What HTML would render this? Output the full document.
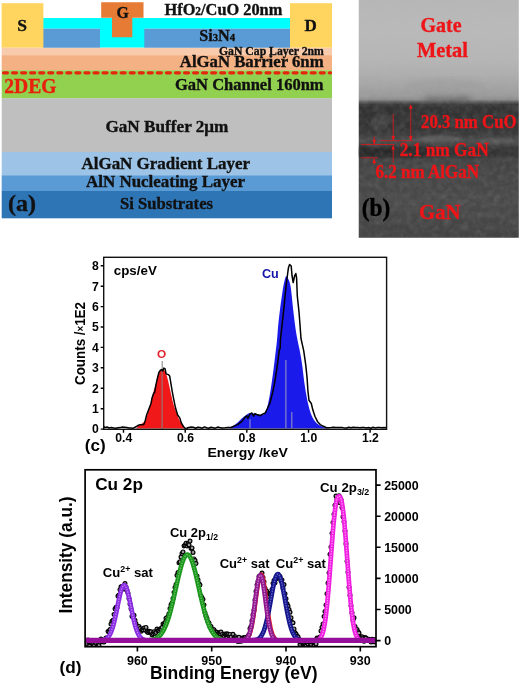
<!DOCTYPE html>
<html><head><meta charset="utf-8"><title>Figure</title>
<style>
html,body{margin:0;padding:0;background:#fff;}
body{width:520px;height:685px;overflow:hidden;}
svg{display:block;filter:blur(0.45px);}
.se{font-family:"Liberation Serif",serif;font-weight:bold;}
.sa{font-family:"Liberation Sans",sans-serif;font-weight:bold;}
</style></head><body>
<svg width="520" height="685" viewBox="0 0 520 685">
<defs>
<linearGradient id="tem" x1="0" y1="0" x2="0" y2="1" gradientUnits="objectBoundingBox">

<stop offset="0.0000" stop-color="#b7b7b7"/>
<stop offset="0.1261" stop-color="#bababa"/>
<stop offset="0.2521" stop-color="#b6b6b6"/>
<stop offset="0.3151" stop-color="#aeaeae"/>
<stop offset="0.3697" stop-color="#a3a3a3"/>
<stop offset="0.4034" stop-color="#9a9a9a"/>
<stop offset="0.4181" stop-color="#8c8c8c"/>
<stop offset="0.4286" stop-color="#5c5c5c"/>
<stop offset="0.4391" stop-color="#3a3a3a"/>
<stop offset="0.4538" stop-color="#323232"/>
<stop offset="0.5378" stop-color="#343434"/>
<stop offset="0.5672" stop-color="#3c3c3c"/>
<stop offset="0.5882" stop-color="#4a4a4a"/>
<stop offset="0.6050" stop-color="#444444"/>
<stop offset="0.6218" stop-color="#3a3a3a"/>
<stop offset="0.6555" stop-color="#3a3a3a"/>
<stop offset="0.6723" stop-color="#424242"/>
<stop offset="0.7353" stop-color="#464646"/>
<stop offset="0.8613" stop-color="#4a4a4a"/>
<stop offset="1.0000" stop-color="#424242"/>
</linearGradient>
<linearGradient id="dl" x1="0" y1="0" x2="1" y2="0"><stop offset="0" stop-color="#1c1c1c" stop-opacity="1"/><stop offset="0.38" stop-color="#1c1c1c" stop-opacity="0.9"/><stop offset="0.6" stop-color="#222" stop-opacity="0.35"/><stop offset="1" stop-color="#222" stop-opacity="0.25"/></linearGradient>
<filter id="noise" x="0" y="0" width="100%" height="100%">
<feTurbulence type="fractalNoise" baseFrequency="0.16" numOctaves="3" seed="4" result="n"/>
<feColorMatrix in="n" type="matrix" values="0 0 0 0 0.5  0 0 0 0 0.5  0 0 0 0 0.5  0.9 0.9 0.9 0 -1.05"/>
</filter>
<filter id="b1"><feGaussianBlur stdDeviation="1.2"/></filter>
<filter id="b2"><feGaussianBlur stdDeviation="3"/></filter>
<clipPath id="cb"><rect x="358.5" y="0" width="160.3" height="237.8"/></clipPath>
<clipPath id="cc"><rect x="103.7" y="257.3" width="282.9" height="172"/></clipPath>
<clipPath id="cd"><rect x="85" y="470" width="291" height="176.7"/></clipPath>
</defs>
<rect width="520" height="685" fill="#fff"/>

<g id="pa">
<rect x="1.7" y="47.5" width="330.3" height="8" fill="#F8CBAD"/>
<rect x="1.7" y="55.2" width="330.3" height="15.3" fill="#F4B183"/>
<rect x="1.7" y="70.3" width="330.3" height="28.2" fill="#92D050"/>
<rect x="1.7" y="98.3" width="330.3" height="53.9" fill="#BFBFBF"/>
<rect x="1.7" y="152" width="330.3" height="23.5" fill="#9DC3E6"/>
<rect x="1.7" y="175.3" width="330.3" height="15.9" fill="#5B9BD5"/>
<rect x="1.7" y="191" width="330.3" height="27.3" fill="#2E75B6"/>
<rect x="43" y="28.4" width="57.2" height="19.3" fill="#5B9BD5"/>
<rect x="144" y="28.4" width="146.2" height="19.3" fill="#5B9BD5"/>
<path d="M43 18 H290.2 V28.5 H144.3 V47.5 H100 V28.5 H43 Z" fill="#00FFFF"/>
<rect x="1.6" y="3.2" width="41.8" height="44.4" fill="#FFD45F"/>
<rect x="290" y="3.2" width="42" height="44.4" fill="#FFD45F"/>
<path d="M101.2 2.3 H143.5 V17.8 H132.3 V37.2 H112 V17.8 H101.2 Z" fill="#E57B35"/>
<path d="M3.6 72.8 H330.4" stroke="#E6250F" stroke-width="3.3" stroke-dasharray="3.8 5.25" stroke-linecap="round" fill="none"/>
<text class="se" x="17.2" y="30.8" font-size="17.5" fill="#111" stroke="#111" stroke-width="0.35">S</text>
<text class="se" x="304.6" y="31" font-size="17" fill="#111" stroke="#111" stroke-width="0.35">D</text>
<text class="se" x="116.4" y="17.8" font-size="15.8" fill="#111" stroke="#111" stroke-width="0.35">G</text>
<text class="se" x="164.5" y="14.8" font-size="16.5" fill="#111" textLength="117.8" lengthAdjust="spacingAndGlyphs" stroke="#111" stroke-width="0.35">HfO<tspan font-size="11.5">2</tspan>/CuO 20nm</text>
<text class="se" x="199.2" y="41.2" font-size="16.5" fill="#111" textLength="36" lengthAdjust="spacingAndGlyphs" stroke="#111" stroke-width="0.35">Si<tspan font-size="11">3</tspan>N<tspan font-size="11">4</tspan></text>
<text class="se" x="219" y="54.6" font-size="12" fill="#111" textLength="104.8" lengthAdjust="spacingAndGlyphs" stroke="#111" stroke-width="0.35">GaN Cap Layer 2nm</text>
<text class="se" x="179.8" y="66.8" font-size="16.5" fill="#111" textLength="143.8" lengthAdjust="spacingAndGlyphs" stroke="#111" stroke-width="0.35">AlGaN Barrier 6nm</text>
<text class="se" x="175" y="89.9" font-size="16.5" fill="#111" textLength="148.6" lengthAdjust="spacingAndGlyphs" stroke="#111" stroke-width="0.35">GaN Channel 160nm</text>
<text class="se" x="4.2" y="93.2" font-size="20" fill="#E8200C" textLength="52.3" lengthAdjust="spacingAndGlyphs" stroke="#E8200C" stroke-width="0.35">2DEG</text>
<text class="se" x="105.4" y="131.5" font-size="17" fill="#111" textLength="123" lengthAdjust="spacingAndGlyphs" stroke="#111" stroke-width="0.35">GaN Buffer 2μm</text>
<text class="se" x="81.5" y="168.5" font-size="17" fill="#111" textLength="168.5" lengthAdjust="spacingAndGlyphs" stroke="#111" stroke-width="0.35">AlGaN Gradient Layer</text>
<text class="se" x="86" y="186.5" font-size="17" fill="#111" textLength="159" lengthAdjust="spacingAndGlyphs" stroke="#111" stroke-width="0.35">AlN Nucleating Layer</text>
<text class="se" x="120" y="208.5" font-size="17" fill="#111" textLength="93" lengthAdjust="spacingAndGlyphs" stroke="#111" stroke-width="0.35">Si Substrates</text>
<text class="se" x="8" y="211" font-size="24" fill="#111" textLength="28" lengthAdjust="spacingAndGlyphs" stroke="#111" stroke-width="0.35">(a)</text>
</g>
<g id="pb" clip-path="url(#cb)">
<rect x="358.5" y="0" width="161.5" height="238" fill="url(#tem)"/>
<g filter="url(#b2)" opacity="0.6">
<ellipse cx="447" cy="99" rx="24" ry="5" fill="#4a4a4a"/>
<ellipse cx="445" cy="88" rx="40" ry="9" fill="#9c9c9c"/>
</g>
<g filter="url(#b1)" opacity="0.6">
<rect x="358" y="147.5" width="161" height="9" fill="url(#dl)"/>
<ellipse cx="438" cy="139" rx="22" ry="3.5" fill="#686868"/>
<ellipse cx="497" cy="141" rx="18" ry="3" fill="#626262"/>
<ellipse cx="380" cy="122" rx="9" ry="9" fill="#4c4c4c"/>
</g>
<rect x="358.5" y="0" width="161.5" height="238" filter="url(#noise)" opacity="0.16"/>
<text class="se" x="441" y="32" font-size="21.5" fill="#EE1418" textLength="41" lengthAdjust="spacingAndGlyphs" text-anchor="middle" stroke="#EE1418" stroke-width="0.35">Gate</text>
<text class="se" x="442.5" y="56.5" font-size="21.5" fill="#EE1418" textLength="51" lengthAdjust="spacingAndGlyphs" text-anchor="middle" stroke="#EE1418" stroke-width="0.35">Metal</text>
<text class="se" x="421" y="128" font-size="18" fill="#EE1418" textLength="95.5" lengthAdjust="spacingAndGlyphs" stroke="#EE1418" stroke-width="0.35">20.3 nm CuO</text>
<text class="se" x="399.7" y="155.5" font-size="18" fill="#EE1418" textLength="89" lengthAdjust="spacingAndGlyphs" stroke="#EE1418" stroke-width="0.35">2.1 nm GaN</text>
<text class="se" x="375.5" y="178.3" font-size="18" fill="#EE1418" textLength="103.5" lengthAdjust="spacingAndGlyphs" stroke="#EE1418" stroke-width="0.35">6.2 nm AlGaN</text>
<text class="se" x="419" y="218.8" font-size="22" fill="#EE1418" textLength="41.5" lengthAdjust="spacingAndGlyphs" stroke="#EE1418" stroke-width="0.35">GaN</text>
<text class="se" x="361.8" y="216" font-size="24.5" fill="#000" textLength="28.5" lengthAdjust="spacingAndGlyphs" stroke="#000" stroke-width="0.35">(b)</text>
<g stroke="#EE1418" stroke-width="0.85" stroke-opacity="0.85" fill="#EE1418">
<path d="M380.4 140.7 H412.7" fill="none"/>
<path d="M361 144.5 H394.2" fill="none"/>
<path d="M361 157.8 H378" fill="none"/>
<path d="M410.7 105 V140" fill="none"/>
<path d="M410.7 104.2 L408.9 108.7 L412.5 108.7 Z" stroke="none"/>
<path d="M410.7 140.4 L408.9 135.9 L412.5 135.9 Z" stroke="none"/>
<path d="M393.2 114 V140" fill="none"/>
<path d="M393.2 140.4 L391.4 135.9 L395 135.9 Z" stroke="none"/>
<path d="M393.2 146 V162.7" fill="none"/>
<path d="M393.2 145 L391.4 149.5 L395 149.5 Z" stroke="none"/>
<path d="M374.2 136.5 V144" fill="none"/>
<path d="M374.2 144.2 L372.4 139.7 L376 139.7 Z" stroke="none"/>
<path d="M374.2 159 V165" fill="none"/>
<path d="M374.2 158.6 L372.4 163.1 L376 163.1 Z" stroke="none"/>
</g>
</g>
<g id="pc">
<g clip-path="url(#cc)">
<path d="M134.5 428.6 L135 428.5 L135.5 428.4 L136 428.2 L136.5 427.9 L137 427.5 L137.5 427 L138 426.5 L138.5 426 L139 425.5 L139.5 425 L140 424.6 L140.5 424.3 L141 424 L141.5 423.7 L142 423.5 L142.5 423.2 L143 422.8 L143.5 422.5 L144 422.1 L144.5 421.6 L145 421 L145.5 420.3 L146 419.2 L146.5 417.7 L147 415.9 L147.5 414.2 L148 412.4 L148.5 410.8 L149 409.1 L149.5 407.4 L150 405.7 L150.5 403.9 L151 402 L151.5 400 L152 397.9 L152.5 395.8 L153 393.6 L153.5 391.6 L154 389.8 L154.5 388.1 L155 386.6 L155.5 385 L156 383.3 L156.5 381.3 L157 379.1 L157.5 377 L158 375.2 L158.5 373.8 L159 372.6 L159.5 371.5 L160 370.7 L160.5 370.1 L161 369.5 L161.5 369.1 L162 368.8 L162.5 368.8 L163 369.1 L163.5 369.5 L164 370.1 L164.5 370.7 L165 371.5 L165.5 372.5 L166 373.7 L166.5 375.1 L167 376.6 L167.5 378.4 L168 380.4 L168.5 382.5 L169 384.7 L169.5 386.9 L170 389.2 L170.5 391.6 L171 393.9 L171.5 396.1 L172 398.3 L172.5 400.4 L173 402.4 L173.5 404.2 L174 405.8 L174.5 407.4 L175 408.8 L175.5 410.2 L176 411.6 L176.5 412.9 L177 414.2 L177.5 415.6 L178 416.8 L178.5 418 L179 419.1 L179.5 420.1 L180 421.1 L180.5 422 L181 422.8 L181.5 423.6 L182 424.4 L182.5 425.2 L183 426 L183.5 426.8 L184 427.5 L184.5 428 L185 428.3 L185.5 428.5 L186 428.6 Z" fill="#F01818"/>
<path d="M229 428.6 L229.5 428.3 L230 428 L230.5 427.7 L231 427.3 L231.5 427 L232 426.7 L232.5 426.3 L233 426 L233.5 425.7 L234 425.3 L234.5 424.9 L235 424.6 L235.5 424.2 L236 423.8 L236.5 423.5 L237 423.1 L237.5 422.7 L238 422.2 L238.5 421.8 L239 421.3 L239.5 420.8 L240 420.3 L240.5 419.8 L241 419.3 L241.5 418.8 L242 418.3 L242.5 417.8 L243 417.4 L243.5 417 L244 416.6 L244.5 416.2 L245 415.9 L245.5 415.5 L246 415.1 L246.5 414.7 L247 414.4 L247.5 414 L248 413.7 L248.5 413.5 L249 413.3 L249.5 413.1 L250 413 L250.5 413 L251 413 L251.5 413.1 L252 413.1 L252.5 413.2 L253 413.3 L253.5 413.4 L254 413.5 L254.5 413.6 L255 413.7 L255.5 413.8 L256 413.9 L256.5 414 L257 414 L257.5 414.1 L258 414.2 L258.5 414.3 L259 414.4 L259.5 414.6 L260 414.7 L260.5 414.7 L261 414.8 L261.5 414.9 L262 415 L262.5 415 L263 415 L263.5 414.8 L264 414.3 L264.5 413.6 L265 412.7 L265.5 411.6 L266 410.5 L266.5 409.3 L267 407.8 L267.5 406 L268 403.9 L268.5 401.6 L269 399.2 L269.5 396.6 L270 393.6 L270.5 390.4 L271 387.2 L271.5 383.9 L272 380.4 L272.5 376.9 L273 373.2 L273.5 369.4 L274 365.5 L274.5 361.5 L275 357.3 L275.5 353.1 L276 348.9 L276.5 344.7 L277 340 L277.5 334 L278 327.5 L278.5 322.3 L279 317.7 L279.5 313.4 L280 309.4 L280.5 305.6 L281 301.9 L281.5 298.4 L282 294.9 L282.5 291.5 L283 288.2 L283.5 285.4 L284 283 L284.5 280.9 L285 278.8 L285.5 277.2 L286 276.3 L286.5 276.3 L287 276.8 L287.5 277.5 L288 278.4 L288.5 279.4 L289 280.5 L289.5 282 L290 283.7 L290.5 285.9 L291 289.2 L291.5 293.5 L292 298.3 L292.5 303.4 L293 308.3 L293.5 312.6 L294 316.8 L294.5 320.9 L295 324.8 L295.5 328.5 L296 331.8 L296.5 334.7 L297 337.4 L297.5 340 L298 342.5 L298.5 344.9 L299 347.2 L299.5 349.5 L300 352 L300.5 354.7 L301 357.6 L301.5 360.7 L302 364 L302.5 367.6 L303 371.7 L303.5 375.9 L304 380.1 L304.5 383.7 L305 387.1 L305.5 390.3 L306 393.3 L306.5 396.1 L307 398.7 L307.5 401.2 L308 403.5 L308.5 405.6 L309 407.5 L309.5 409.4 L310 411.1 L310.5 412.6 L311 414 L311.5 415.2 L312 416.3 L312.5 417.4 L313 418.3 L313.5 419.2 L314 420 L314.5 420.7 L315 421.3 L315.5 421.9 L316 422.4 L316.5 422.9 L317 423.4 L317.5 423.8 L318 424.2 L318.5 424.5 L319 424.9 L319.5 425.2 L320 425.4 L320.5 425.7 L321 425.9 L321.5 426.2 L322 426.4 L322.5 426.6 L323 426.8 L323.5 427 L324 427.2 L324.5 427.4 L325 427.6 L325.5 427.8 L326 428 L326.5 428.1 L327 428.3 L327.5 428.4 L328 428.6 Z" fill="#1A1AEB"/>
<path d="M162.2 361 V428.5" stroke="#8c8c8c" stroke-width="1.1" fill="none"/>
<path d="M162.2 369.5 V428.5" stroke="#b85050" stroke-width="1.1" fill="none"/>
<path d="M285.9 360 V428.5 M291.8 412 V428.5 M250 419.3 V428.5" stroke="#8f8fc0" stroke-width="1.1" fill="none"/>
<path d="M103.5 426.2 L105 427.6 L107 427 L109.2 428 L111.4 427.5 L113.6 427.9 L115.8 428.3 L118 427.7 L120.2 427.6 L122.4 427 L124.6 427.3 L126.8 427.6 L129 427.9 L131.2 428 L132.9 428.3 L137.3 426 L138.7 425.1 L143.8 424.4 L145.2 420.8 L146.6 415 L148.8 409.2 L151 403.5 L152.1 397.7 L153.6 393.4 L154.6 392.6 L156 384.7 L157.9 376.1 L158.9 372.5 L160.3 370.3 L161.8 369.6 L162.8 371 L163.9 368.1 L165.1 368.8 L166.1 373.9 L168.3 374.6 L169.7 376.1 L170.9 383.3 L172.3 391.9 L174 400.6 L175.5 407.8 L177.6 415 L179.8 417.9 L181.3 422.9 L183.4 426.5 L185.3 428.3 L186.3 431.6 L187.2 427.7 L189 427.4 L191.2 427 L193.4 427.3 L195.6 428.2 L197.8 427.2 L200 427.5 L202.2 428.2 L204.4 426.9 L206.6 427.7 L208.8 428.2 L211 427.2 L213.2 427.7 L215.4 428.2 L217.6 427.1 L219.8 427.6 L222 428 L225 427.8 L231.3 427.2 L237.7 424.6 L241.9 421.4 L245.1 417.2 L246.8 415.7 L247.8 418.3 L250 414 L251.9 413 L253.6 416.2 L255 413.6 L256.7 414.5 L259.9 415.7 L263.1 414 L265.2 413 L267.3 408.8 L269.8 403.5 L272.6 392.9 L274.7 382.3 L276.4 371.7 L277.9 361.2 L279.2 350.6 L280.2 348 L280.4 340 L283.5 311.8 L286.2 285 L287.6 274 L288.5 267.4 L289.6 264.5 L291.2 266 L292 275.5 L293.2 282.5 L294.7 275.5 L295.8 273.5 L296.6 278 L297.3 296 L299 311.8 L300 325 L301 338.7 L303.7 350.6 L305.8 365.4 L307.1 378.1 L307.9 390.8 L309 400.3 L311.3 403.5 L312.8 409.8 L314.9 416.2 L317.4 421.4 L320.2 424.6 L323.4 426.3 L326.5 427.8 L329 427.8 L331.2 427.6 L333.4 427.2 L335.6 427.6 L337.8 427.4 L340 427.6 L342.2 427.4 L344.4 428.1 L346.6 428 L348.8 427.3 L351 427.7 L353.2 427.3 L355.4 427.5 L357.6 427.4 L359.8 427.8 L362 427.4 L364.2 427.5 L366.4 427.9 L368.6 427.5 L370.8 428.2 L373 427.2 L375.2 427.9 L377.4 427.5 L379.6 427.5 L381.8 427.8 L384 427.6 L386.5 427.8" stroke="#000" stroke-width="1.5" fill="none" stroke-linejoin="round"/>
</g>
<rect x="103.7" y="257.3" width="282.9" height="172" fill="none" stroke="#111" stroke-width="1.4"/>
<path d="M103.5 429.1 h-2.8 M103.5 408.7 h-2.8 M103.5 388.3 h-2.8 M103.5 367.8 h-2.8 M103.5 347.4 h-2.8 M103.5 327 h-2.8 M103.5 306.6 h-2.8 M103.5 286.2 h-2.8 M103.5 265.7 h-2.8 M123.5 429.3 v3.4 M185.2 429.3 v3.4 M246.8 429.3 v3.4 M308.5 429.3 v3.4 M370.1 429.3 v3.4" stroke="#000" stroke-width="1.4" fill="none"/>
<text class="sa" x="98.7" y="433.4" font-size="12.2" fill="#000" text-anchor="end">0</text>
<text class="sa" x="98.7" y="413" font-size="12.2" fill="#000" text-anchor="end">1</text>
<text class="sa" x="98.7" y="392.6" font-size="12.2" fill="#000" text-anchor="end">2</text>
<text class="sa" x="98.7" y="372.1" font-size="12.2" fill="#000" text-anchor="end">3</text>
<text class="sa" x="98.7" y="351.7" font-size="12.2" fill="#000" text-anchor="end">4</text>
<text class="sa" x="98.7" y="331.3" font-size="12.2" fill="#000" text-anchor="end">5</text>
<text class="sa" x="98.7" y="310.9" font-size="12.2" fill="#000" text-anchor="end">6</text>
<text class="sa" x="98.7" y="290.5" font-size="12.2" fill="#000" text-anchor="end">7</text>
<text class="sa" x="98.7" y="270" font-size="12.2" fill="#000" text-anchor="end">8</text>
<text class="sa" x="123.8" y="441.9" font-size="12.2" fill="#000" text-anchor="middle">0.4</text>
<text class="sa" x="185.5" y="441.9" font-size="12.2" fill="#000" text-anchor="middle">0.6</text>
<text class="sa" x="247.1" y="441.9" font-size="12.2" fill="#000" text-anchor="middle">0.8</text>
<text class="sa" x="308.8" y="441.9" font-size="12.2" fill="#000" text-anchor="middle">1.0</text>
<text class="sa" x="370.4" y="441.9" font-size="12.2" fill="#000" text-anchor="middle">1.2</text>
<text class="sa" x="113.8" y="274.5" font-size="13" fill="#000" textLength="43" lengthAdjust="spacingAndGlyphs">cps/eV</text>
<text class="sa" x="207.5" y="456.8" font-size="13.5" fill="#000" textLength="80.3" lengthAdjust="spacingAndGlyphs">Energy /keV</text>
<text class="sa" x="84.8" y="451.2" font-size="17" fill="#000" textLength="20.9" lengthAdjust="spacingAndGlyphs">(c)</text>
<text class="sa" x="0" y="0" font-size="14" fill="#000" textLength="83" lengthAdjust="spacingAndGlyphs" transform="translate(85.4 385) rotate(-90)">Counts /<tspan font-size="10" dy="-1.3">×</tspan><tspan dy="1.3">1E2</tspan></text>
<text class="sa" x="161.6" y="357.5" font-size="11.8" fill="#E0202A" text-anchor="middle">O</text>
<text class="sa" x="262" y="278.2" font-size="12.5" fill="#1414A8" textLength="16.8" lengthAdjust="spacingAndGlyphs">Cu</text>
</g>
<g id="pd">
<g clip-path="url(#cd)">
<g fill="#9a9a9a" stroke="#000" stroke-width="1.2"><circle cx="86" cy="642" r="1.9"/><circle cx="87" cy="643.4" r="1.9"/><circle cx="88" cy="639.9" r="1.9"/><circle cx="89" cy="642.6" r="1.9"/><circle cx="90" cy="643" r="1.9"/><circle cx="91" cy="642.8" r="1.9"/><circle cx="92" cy="643.5" r="1.9"/><circle cx="93" cy="643.8" r="1.9"/><circle cx="94" cy="645.4" r="1.9"/><circle cx="95" cy="642.4" r="1.9"/><circle cx="96" cy="643.2" r="1.9"/><circle cx="97" cy="641.1" r="1.9"/><circle cx="98" cy="643.2" r="1.9"/><circle cx="99" cy="645.2" r="1.9"/><circle cx="100" cy="642.1" r="1.9"/><circle cx="101" cy="639" r="1.9"/><circle cx="102" cy="641.6" r="1.9"/><circle cx="103" cy="641.7" r="1.9"/><circle cx="104" cy="641.9" r="1.9"/><circle cx="105" cy="640.2" r="1.9"/><circle cx="106" cy="637.9" r="1.9"/><circle cx="107" cy="638.1" r="1.9"/><circle cx="108" cy="631.5" r="1.9"/><circle cx="109" cy="631.7" r="1.9"/><circle cx="110" cy="629.6" r="1.9"/><circle cx="111" cy="624.1" r="1.9"/><circle cx="112" cy="621.3" r="1.9"/><circle cx="113" cy="620.3" r="1.9"/><circle cx="114" cy="614.5" r="1.9"/><circle cx="115" cy="609" r="1.9"/><circle cx="116" cy="607.3" r="1.9"/><circle cx="117" cy="607.6" r="1.9"/><circle cx="118" cy="595.9" r="1.9"/><circle cx="119" cy="594.9" r="1.9"/><circle cx="120" cy="589.8" r="1.9"/><circle cx="121" cy="586.7" r="1.9"/><circle cx="122" cy="586.8" r="1.9"/><circle cx="123" cy="588.6" r="1.9"/><circle cx="124" cy="588.9" r="1.9"/><circle cx="125" cy="583.5" r="1.9"/><circle cx="126" cy="587.1" r="1.9"/><circle cx="127" cy="590.4" r="1.9"/><circle cx="128" cy="593.5" r="1.9"/><circle cx="129" cy="598.6" r="1.9"/><circle cx="130" cy="604.1" r="1.9"/><circle cx="131" cy="609" r="1.9"/><circle cx="132" cy="616.3" r="1.9"/><circle cx="133" cy="617.1" r="1.9"/><circle cx="134" cy="615.3" r="1.9"/><circle cx="135" cy="620.2" r="1.9"/><circle cx="136" cy="623.8" r="1.9"/><circle cx="137" cy="626.2" r="1.9"/><circle cx="138" cy="627.9" r="1.9"/><circle cx="139" cy="626.5" r="1.9"/><circle cx="140" cy="628.5" r="1.9"/><circle cx="141" cy="631.3" r="1.9"/><circle cx="142" cy="629.8" r="1.9"/><circle cx="143" cy="629.9" r="1.9"/><circle cx="144" cy="628" r="1.9"/><circle cx="145" cy="630" r="1.9"/><circle cx="146" cy="627.4" r="1.9"/><circle cx="147" cy="631.4" r="1.9"/><circle cx="148" cy="632.4" r="1.9"/><circle cx="149" cy="631.3" r="1.9"/><circle cx="150" cy="631.9" r="1.9"/><circle cx="151" cy="631.7" r="1.9"/><circle cx="152" cy="634.7" r="1.9"/><circle cx="153" cy="633.6" r="1.9"/><circle cx="154" cy="631.8" r="1.9"/><circle cx="155" cy="633.5" r="1.9"/><circle cx="156" cy="632.5" r="1.9"/><circle cx="157" cy="629.1" r="1.9"/><circle cx="158" cy="630.8" r="1.9"/><circle cx="159" cy="630.5" r="1.9"/><circle cx="160" cy="629" r="1.9"/><circle cx="161" cy="629.4" r="1.9"/><circle cx="162" cy="627.5" r="1.9"/><circle cx="163" cy="624" r="1.9"/><circle cx="164" cy="623.9" r="1.9"/><circle cx="165" cy="622.5" r="1.9"/><circle cx="166" cy="618.3" r="1.9"/><circle cx="167" cy="620.2" r="1.9"/><circle cx="168" cy="616.5" r="1.9"/><circle cx="169" cy="613.8" r="1.9"/><circle cx="170" cy="608.4" r="1.9"/><circle cx="171" cy="604.7" r="1.9"/><circle cx="172" cy="602.9" r="1.9"/><circle cx="173" cy="598.4" r="1.9"/><circle cx="174" cy="592.5" r="1.9"/><circle cx="175" cy="587.4" r="1.9"/><circle cx="176" cy="584.4" r="1.9"/><circle cx="177" cy="575.3" r="1.9"/><circle cx="178" cy="572.6" r="1.9"/><circle cx="179" cy="562.8" r="1.9"/><circle cx="180" cy="561.8" r="1.9"/><circle cx="181" cy="557.1" r="1.9"/><circle cx="182" cy="553.6" r="1.9"/><circle cx="183" cy="551.9" r="1.9"/><circle cx="184" cy="546" r="1.9"/><circle cx="185" cy="545.2" r="1.9"/><circle cx="186" cy="543.2" r="1.9"/><circle cx="187" cy="546" r="1.9"/><circle cx="188" cy="543.9" r="1.9"/><circle cx="189" cy="544.9" r="1.9"/><circle cx="190" cy="541.1" r="1.9"/><circle cx="191" cy="548.5" r="1.9"/><circle cx="192" cy="547.9" r="1.9"/><circle cx="193" cy="552.4" r="1.9"/><circle cx="194" cy="558.9" r="1.9"/><circle cx="195" cy="560.6" r="1.9"/><circle cx="196" cy="563.5" r="1.9"/><circle cx="197" cy="575.9" r="1.9"/><circle cx="198" cy="579.8" r="1.9"/><circle cx="199" cy="583.5" r="1.9"/><circle cx="200" cy="585" r="1.9"/><circle cx="201" cy="596" r="1.9"/><circle cx="202" cy="597.7" r="1.9"/><circle cx="203" cy="599.5" r="1.9"/><circle cx="204" cy="605" r="1.9"/><circle cx="205" cy="613" r="1.9"/><circle cx="206" cy="616.1" r="1.9"/><circle cx="207" cy="618.4" r="1.9"/><circle cx="208" cy="621.7" r="1.9"/><circle cx="209" cy="623.1" r="1.9"/><circle cx="210" cy="626.7" r="1.9"/><circle cx="211" cy="626.6" r="1.9"/><circle cx="212" cy="629.8" r="1.9"/><circle cx="213" cy="629.7" r="1.9"/><circle cx="214" cy="629.8" r="1.9"/><circle cx="215" cy="631.8" r="1.9"/><circle cx="216" cy="634.6" r="1.9"/><circle cx="217" cy="632.3" r="1.9"/><circle cx="218" cy="633.8" r="1.9"/><circle cx="219" cy="633" r="1.9"/><circle cx="220" cy="633.7" r="1.9"/><circle cx="221" cy="632" r="1.9"/><circle cx="222" cy="634.5" r="1.9"/><circle cx="223" cy="636.4" r="1.9"/><circle cx="224" cy="635.7" r="1.9"/><circle cx="225" cy="634" r="1.9"/><circle cx="226" cy="634.8" r="1.9"/><circle cx="227" cy="633.7" r="1.9"/><circle cx="228" cy="634.3" r="1.9"/><circle cx="229" cy="636.2" r="1.9"/><circle cx="230" cy="634.4" r="1.9"/><circle cx="231" cy="637.1" r="1.9"/><circle cx="232" cy="640" r="1.9"/><circle cx="233" cy="634.3" r="1.9"/><circle cx="234" cy="640.6" r="1.9"/><circle cx="235" cy="636.9" r="1.9"/><circle cx="236" cy="636.9" r="1.9"/><circle cx="237" cy="638.2" r="1.9"/><circle cx="238" cy="641.4" r="1.9"/><circle cx="239" cy="637.2" r="1.9"/><circle cx="240" cy="641" r="1.9"/><circle cx="241" cy="641.3" r="1.9"/><circle cx="242" cy="640.1" r="1.9"/><circle cx="243" cy="637.8" r="1.9"/><circle cx="244" cy="638.2" r="1.9"/><circle cx="245" cy="637.4" r="1.9"/><circle cx="246" cy="639.1" r="1.9"/><circle cx="247" cy="637" r="1.9"/><circle cx="248" cy="636.2" r="1.9"/><circle cx="249" cy="634.6" r="1.9"/><circle cx="250" cy="628.6" r="1.9"/><circle cx="251" cy="626.4" r="1.9"/><circle cx="252" cy="620.7" r="1.9"/><circle cx="253" cy="614.8" r="1.9"/><circle cx="254" cy="610.2" r="1.9"/><circle cx="255" cy="599.9" r="1.9"/><circle cx="256" cy="591.3" r="1.9"/><circle cx="257" cy="585" r="1.9"/><circle cx="258" cy="581.6" r="1.9"/><circle cx="259" cy="576.6" r="1.9"/><circle cx="260" cy="576.3" r="1.9"/><circle cx="261" cy="576.8" r="1.9"/><circle cx="262" cy="573.1" r="1.9"/><circle cx="263" cy="577.6" r="1.9"/><circle cx="264" cy="581.7" r="1.9"/><circle cx="265" cy="588.3" r="1.9"/><circle cx="266" cy="590.8" r="1.9"/><circle cx="267" cy="591.6" r="1.9"/><circle cx="268" cy="596.4" r="1.9"/><circle cx="269" cy="593.4" r="1.9"/><circle cx="270" cy="594.3" r="1.9"/><circle cx="271" cy="594.1" r="1.9"/><circle cx="272" cy="589.5" r="1.9"/><circle cx="273" cy="583.5" r="1.9"/><circle cx="274" cy="580.5" r="1.9"/><circle cx="275" cy="582.7" r="1.9"/><circle cx="276" cy="579" r="1.9"/><circle cx="277" cy="576.1" r="1.9"/><circle cx="278" cy="575" r="1.9"/><circle cx="279" cy="578.1" r="1.9"/><circle cx="280" cy="576.4" r="1.9"/><circle cx="281" cy="580.8" r="1.9"/><circle cx="282" cy="580" r="1.9"/><circle cx="283" cy="588.5" r="1.9"/><circle cx="284" cy="584.6" r="1.9"/><circle cx="285" cy="593.7" r="1.9"/><circle cx="286" cy="598.7" r="1.9"/><circle cx="287" cy="603.7" r="1.9"/><circle cx="288" cy="606.1" r="1.9"/><circle cx="289" cy="609.6" r="1.9"/><circle cx="290" cy="612.2" r="1.9"/><circle cx="291" cy="617.8" r="1.9"/><circle cx="292" cy="622.4" r="1.9"/><circle cx="293" cy="622.7" r="1.9"/><circle cx="294" cy="628.9" r="1.9"/><circle cx="295" cy="632.8" r="1.9"/><circle cx="296" cy="634.1" r="1.9"/><circle cx="297" cy="636" r="1.9"/><circle cx="298" cy="636.8" r="1.9"/><circle cx="299" cy="639.3" r="1.9"/><circle cx="300" cy="644.4" r="1.9"/><circle cx="301" cy="642.1" r="1.9"/><circle cx="302" cy="641.1" r="1.9"/><circle cx="303" cy="643.6" r="1.9"/><circle cx="304" cy="644.8" r="1.9"/><circle cx="305" cy="643.7" r="1.9"/><circle cx="306" cy="644.9" r="1.9"/><circle cx="307" cy="643.1" r="1.9"/><circle cx="308" cy="644" r="1.9"/><circle cx="309" cy="641.7" r="1.9"/><circle cx="310" cy="642.7" r="1.9"/><circle cx="311" cy="644.2" r="1.9"/><circle cx="312" cy="641.9" r="1.9"/><circle cx="313" cy="641" r="1.9"/><circle cx="314" cy="642.7" r="1.9"/><circle cx="315" cy="641.9" r="1.9"/><circle cx="316" cy="643.9" r="1.9"/><circle cx="317" cy="638" r="1.9"/><circle cx="318" cy="639.2" r="1.9"/><circle cx="319" cy="639.4" r="1.9"/><circle cx="320" cy="636.9" r="1.9"/><circle cx="321" cy="630.9" r="1.9"/><circle cx="322" cy="627.3" r="1.9"/><circle cx="323" cy="624" r="1.9"/><circle cx="324" cy="616.5" r="1.9"/><circle cx="325" cy="611.4" r="1.9"/><circle cx="326" cy="605.1" r="1.9"/><circle cx="327" cy="593.8" r="1.9"/><circle cx="328" cy="583.1" r="1.9"/><circle cx="329" cy="573" r="1.9"/><circle cx="330" cy="554.3" r="1.9"/><circle cx="331" cy="547.1" r="1.9"/><circle cx="332" cy="533.5" r="1.9"/><circle cx="333" cy="522.6" r="1.9"/><circle cx="334" cy="514.2" r="1.9"/><circle cx="335" cy="505.2" r="1.9"/><circle cx="336" cy="496.1" r="1.9"/><circle cx="337" cy="499.1" r="1.9"/><circle cx="338" cy="498" r="1.9"/><circle cx="339" cy="495.8" r="1.9"/><circle cx="340" cy="502.7" r="1.9"/><circle cx="341" cy="499.8" r="1.9"/><circle cx="342" cy="507.5" r="1.9"/><circle cx="343" cy="516.7" r="1.9"/><circle cx="344" cy="522" r="1.9"/><circle cx="345" cy="531.1" r="1.9"/><circle cx="346" cy="543.8" r="1.9"/><circle cx="347" cy="561.5" r="1.9"/><circle cx="348" cy="572.3" r="1.9"/><circle cx="349" cy="587.2" r="1.9"/><circle cx="350" cy="595.3" r="1.9"/><circle cx="351" cy="606" r="1.9"/><circle cx="352" cy="612.8" r="1.9"/><circle cx="353" cy="620.5" r="1.9"/><circle cx="354" cy="617.8" r="1.9"/><circle cx="355" cy="626.4" r="1.9"/><circle cx="356" cy="630.6" r="1.9"/><circle cx="357" cy="629.6" r="1.9"/><circle cx="358" cy="631.7" r="1.9"/><circle cx="359" cy="633.1" r="1.9"/><circle cx="360" cy="636.8" r="1.9"/><circle cx="361" cy="637.7" r="1.9"/><circle cx="362" cy="636.8" r="1.9"/><circle cx="363" cy="637.9" r="1.9"/><circle cx="364" cy="641.3" r="1.9"/><circle cx="365" cy="637.4" r="1.9"/><circle cx="366" cy="638.1" r="1.9"/><circle cx="367" cy="639.9" r="1.9"/><circle cx="368" cy="640.1" r="1.9"/><circle cx="369" cy="639.2" r="1.9"/><circle cx="370" cy="640.6" r="1.9"/><circle cx="371" cy="642.1" r="1.9"/><circle cx="372" cy="639.2" r="1.9"/><circle cx="373" cy="641.8" r="1.9"/><circle cx="374" cy="639.4" r="1.9"/><circle cx="375" cy="641.9" r="1.9"/></g>
<path d="M252 638.6 H272" stroke="#7B2BFF" stroke-width="1.6" fill="none"/>
<path d="M101.5 640.4 L102 640.3 L102.5 640.3 L103 640.2 L103.5 640.1 L104 639.9 L104.5 639.8 L105 639.6 L105.5 639.3 L106 639.1 L106.5 638.7 L107 638.3 L107.5 637.9 L108 637.4 L108.5 636.7 L109 636 L109.5 635.2 L110 634.3 L110.5 633.3 L111 632.2 L111.5 630.9 L112 629.5 L112.5 628 L113 626.3 L113.5 624.5 L114 622.6 L114.5 620.5 L115 618.4 L115.5 616.1 L116 613.8 L116.5 611.4 L117 608.9 L117.5 606.4 L118 604 L118.5 601.5 L119 599.2 L119.5 596.9 L120 594.7 L120.5 592.7 L121 590.9 L121.5 589.3 L122 587.9 L122.5 586.8 L123 586 L123.5 585.4 L124 585.1 L124.5 585.2 L125 585.5 L125.5 586.1 L126 587 L126.5 588.2 L127 589.6 L127.5 591.3 L128 593.1 L128.5 595.2 L129 597.3 L129.5 599.6 L130 602 L130.5 604.5 L131 606.9 L131.5 609.4 L132 611.9 L132.5 614.3 L133 616.6 L133.5 618.8 L134 621 L134.5 623 L135 624.9 L135.5 626.6 L136 628.3 L136.5 629.8 L137 631.2 L137.5 632.4 L138 633.5 L138.5 634.5 L139 635.4 L139.5 636.2 L140 636.9 L140.5 637.5 L141 638 L141.5 638.4 L142 638.8 L142.5 639.1 L143 639.4 L143.5 639.6 L144 639.8 L144.5 640 L145 640.1 L145.5 640.2 L146 640.3 L146.5 640.3 L147 640.4" stroke="#8A2BE2" stroke-width="4.7" fill="none" stroke-linejoin="round"/>
<path d="M101.5 640.4 L102 640.3 L102.5 640.3 L103 640.2 L103.5 640.1 L104 639.9 L104.5 639.8 L105 639.6 L105.5 639.3 L106 639.1 L106.5 638.7 L107 638.3 L107.5 637.9 L108 637.4 L108.5 636.7 L109 636 L109.5 635.2 L110 634.3 L110.5 633.3 L111 632.2 L111.5 630.9 L112 629.5 L112.5 628 L113 626.3 L113.5 624.5 L114 622.6 L114.5 620.5 L115 618.4 L115.5 616.1 L116 613.8 L116.5 611.4 L117 608.9 L117.5 606.4 L118 604 L118.5 601.5 L119 599.2 L119.5 596.9 L120 594.7 L120.5 592.7 L121 590.9 L121.5 589.3 L122 587.9 L122.5 586.8 L123 586 L123.5 585.4 L124 585.1 L124.5 585.2 L125 585.5 L125.5 586.1 L126 587 L126.5 588.2 L127 589.6 L127.5 591.3 L128 593.1 L128.5 595.2 L129 597.3 L129.5 599.6 L130 602 L130.5 604.5 L131 606.9 L131.5 609.4 L132 611.9 L132.5 614.3 L133 616.6 L133.5 618.8 L134 621 L134.5 623 L135 624.9 L135.5 626.6 L136 628.3 L136.5 629.8 L137 631.2 L137.5 632.4 L138 633.5 L138.5 634.5 L139 635.4 L139.5 636.2 L140 636.9 L140.5 637.5 L141 638 L141.5 638.4 L142 638.8 L142.5 639.1 L143 639.4 L143.5 639.6 L144 639.8 L144.5 640 L145 640.1 L145.5 640.2 L146 640.3 L146.5 640.3 L147 640.4" stroke="#C9A2FF" stroke-width="1.3" fill="none" stroke-linejoin="round" stroke-dasharray="1.5 1.1" opacity="0.75"/>
<path d="M148 640.3 L148.5 640.3 L149 640.2 L149.5 640.2 L150 640.1 L150.5 640.1 L151 640 L151.5 639.9 L152 639.8 L152.5 639.7 L153 639.5 L153.5 639.4 L154 639.2 L154.5 639.1 L155 638.9 L155.5 638.6 L156 638.4 L156.5 638.1 L157 637.8 L157.5 637.5 L158 637.1 L158.5 636.7 L159 636.3 L159.5 635.8 L160 635.3 L160.5 634.8 L161 634.1 L161.5 633.5 L162 632.8 L162.5 632 L163 631.2 L163.5 630.3 L164 629.4 L164.5 628.3 L165 627.3 L165.5 626.1 L166 624.9 L166.5 623.6 L167 622.3 L167.5 620.9 L168 619.4 L168.5 617.8 L169 616.2 L169.5 614.5 L170 612.7 L170.5 610.8 L171 608.9 L171.5 607 L172 605 L172.5 602.9 L173 600.8 L173.5 598.7 L174 596.5 L174.5 594.3 L175 592 L175.5 589.8 L176 587.5 L176.5 585.3 L177 583.1 L177.5 580.9 L178 578.7 L178.5 576.5 L179 574.4 L179.5 572.4 L180 570.4 L180.5 568.5 L181 566.7 L181.5 565 L182 563.4 L182.5 561.9 L183 560.6 L183.5 559.3 L184 558.2 L184.5 557.2 L185 556.4 L185.5 555.7 L186 555.2 L186.5 554.9 L187 554.7 L187.5 554.6 L188 554.7 L188.5 555 L189 555.4 L189.5 556 L190 556.7 L190.5 557.6 L191 558.6 L191.5 559.8 L192 561.1 L192.5 562.5 L193 564.1 L193.5 565.7 L194 567.5 L194.5 569.3 L195 571.2 L195.5 573.2 L196 575.3 L196.5 577.4 L197 579.5 L197.5 581.7 L198 584 L198.5 586.2 L199 588.4 L199.5 590.7 L200 592.9 L200.5 595.1 L201 597.3 L201.5 599.5 L202 601.6 L202.5 603.7 L203 605.8 L203.5 607.8 L204 609.7 L204.5 611.6 L205 613.4 L205.5 615.1 L206 616.8 L206.5 618.4 L207 620 L207.5 621.4 L208 622.8 L208.5 624.2 L209 625.4 L209.5 626.6 L210 627.7 L210.5 628.8 L211 629.7 L211.5 630.7 L212 631.5 L212.5 632.3 L213 633.1 L213.5 633.8 L214 634.4 L214.5 635 L215 635.5 L215.5 636 L216 636.5 L216.5 636.9 L217 637.3 L217.5 637.6 L218 637.9 L218.5 638.2 L219 638.5 L219.5 638.7 L220 638.9 L220.5 639.1 L221 639.3 L221.5 639.5 L222 639.6 L222.5 639.7 L223 639.8 L223.5 639.9 L224 640 L224.5 640.1 L225 640.2 L225.5 640.2 L226 640.3 L226.5 640.3" stroke="#1C961C" stroke-width="4.7" fill="none" stroke-linejoin="round"/>
<path d="M148 640.3 L148.5 640.3 L149 640.2 L149.5 640.2 L150 640.1 L150.5 640.1 L151 640 L151.5 639.9 L152 639.8 L152.5 639.7 L153 639.5 L153.5 639.4 L154 639.2 L154.5 639.1 L155 638.9 L155.5 638.6 L156 638.4 L156.5 638.1 L157 637.8 L157.5 637.5 L158 637.1 L158.5 636.7 L159 636.3 L159.5 635.8 L160 635.3 L160.5 634.8 L161 634.1 L161.5 633.5 L162 632.8 L162.5 632 L163 631.2 L163.5 630.3 L164 629.4 L164.5 628.3 L165 627.3 L165.5 626.1 L166 624.9 L166.5 623.6 L167 622.3 L167.5 620.9 L168 619.4 L168.5 617.8 L169 616.2 L169.5 614.5 L170 612.7 L170.5 610.8 L171 608.9 L171.5 607 L172 605 L172.5 602.9 L173 600.8 L173.5 598.7 L174 596.5 L174.5 594.3 L175 592 L175.5 589.8 L176 587.5 L176.5 585.3 L177 583.1 L177.5 580.9 L178 578.7 L178.5 576.5 L179 574.4 L179.5 572.4 L180 570.4 L180.5 568.5 L181 566.7 L181.5 565 L182 563.4 L182.5 561.9 L183 560.6 L183.5 559.3 L184 558.2 L184.5 557.2 L185 556.4 L185.5 555.7 L186 555.2 L186.5 554.9 L187 554.7 L187.5 554.6 L188 554.7 L188.5 555 L189 555.4 L189.5 556 L190 556.7 L190.5 557.6 L191 558.6 L191.5 559.8 L192 561.1 L192.5 562.5 L193 564.1 L193.5 565.7 L194 567.5 L194.5 569.3 L195 571.2 L195.5 573.2 L196 575.3 L196.5 577.4 L197 579.5 L197.5 581.7 L198 584 L198.5 586.2 L199 588.4 L199.5 590.7 L200 592.9 L200.5 595.1 L201 597.3 L201.5 599.5 L202 601.6 L202.5 603.7 L203 605.8 L203.5 607.8 L204 609.7 L204.5 611.6 L205 613.4 L205.5 615.1 L206 616.8 L206.5 618.4 L207 620 L207.5 621.4 L208 622.8 L208.5 624.2 L209 625.4 L209.5 626.6 L210 627.7 L210.5 628.8 L211 629.7 L211.5 630.7 L212 631.5 L212.5 632.3 L213 633.1 L213.5 633.8 L214 634.4 L214.5 635 L215 635.5 L215.5 636 L216 636.5 L216.5 636.9 L217 637.3 L217.5 637.6 L218 637.9 L218.5 638.2 L219 638.5 L219.5 638.7 L220 638.9 L220.5 639.1 L221 639.3 L221.5 639.5 L222 639.6 L222.5 639.7 L223 639.8 L223.5 639.9 L224 640 L224.5 640.1 L225 640.2 L225.5 640.2 L226 640.3 L226.5 640.3" stroke="#7AD07A" stroke-width="1.3" fill="none" stroke-linejoin="round" stroke-dasharray="1.5 1.1" opacity="0.75"/>
<path d="M243.5 640.4 L244 640.3 L244.5 640.2 L245 640.1 L245.5 639.9 L246 639.7 L246.5 639.4 L247 639 L247.5 638.6 L248 638 L248.5 637.3 L249 636.5 L249.5 635.5 L250 634.3 L250.5 632.9 L251 631.3 L251.5 629.4 L252 627.3 L252.5 624.9 L253 622.2 L253.5 619.3 L254 616.2 L254.5 612.8 L255 609.3 L255.5 605.6 L256 601.8 L256.5 598 L257 594.2 L257.5 590.6 L258 587.1 L258.5 583.9 L259 581.1 L259.5 578.7 L260 576.7 L260.5 575.3 L261 574.4 L261.5 574.1 L262 574.4 L262.5 575.3 L263 576.7 L263.5 578.7 L264 581.1 L264.5 583.9 L265 587.1 L265.5 590.6 L266 594.2 L266.5 598 L267 601.8 L267.5 605.6 L268 609.3 L268.5 612.8 L269 616.2 L269.5 619.3 L270 622.2 L270.5 624.9 L271 627.3 L271.5 629.4 L272 631.3 L272.5 632.9 L273 634.3 L273.5 635.5 L274 636.5 L274.5 637.3 L275 638 L275.5 638.6 L276 639 L276.5 639.4 L277 639.7 L277.5 639.9 L278 640.1 L278.5 640.2 L279 640.3 L279.5 640.4" stroke="#E81818" stroke-width="3.4" fill="none"/>
<path d="M253.5 640.4 L254 640.3 L254.5 640.3 L255 640.2 L255.5 640.1 L256 639.9 L256.5 639.8 L257 639.6 L257.5 639.4 L258 639.1 L258.5 638.8 L259 638.5 L259.5 638.1 L260 637.6 L260.5 637 L261 636.4 L261.5 635.6 L262 634.8 L262.5 633.8 L263 632.8 L263.5 631.6 L264 630.3 L264.5 628.8 L265 627.2 L265.5 625.5 L266 623.6 L266.5 621.6 L267 619.5 L267.5 617.2 L268 614.8 L268.5 612.2 L269 609.6 L269.5 606.9 L270 604.2 L270.5 601.4 L271 598.6 L271.5 595.8 L272 593.1 L272.5 590.4 L273 587.8 L273.5 585.4 L274 583.2 L274.5 581.1 L275 579.3 L275.5 577.7 L276 576.4 L276.5 575.3 L277 574.6 L277.5 574.2 L278 574.1 L278.5 574.3 L279 574.9 L279.5 575.7 L280 576.9 L280.5 578.3 L281 580 L281.5 581.9 L282 584.1 L282.5 586.4 L283 588.9 L283.5 591.5 L284 594.2 L284.5 596.9 L285 599.7 L285.5 602.5 L286 605.3 L286.5 608 L287 610.7 L287.5 613.3 L288 615.7 L288.5 618.1 L289 620.3 L289.5 622.4 L290 624.4 L290.5 626.2 L291 627.9 L291.5 629.4 L292 630.8 L292.5 632.1 L293 633.2 L293.5 634.2 L294 635.1 L294.5 635.9 L295 636.6 L295.5 637.2 L296 637.8 L296.5 638.2 L297 638.6 L297.5 639 L298 639.2 L298.5 639.5 L299 639.7 L299.5 639.9 L300 640 L300.5 640.1 L301 640.2 L301.5 640.3 L302 640.4" stroke="#16168C" stroke-width="4.7" fill="none" stroke-linejoin="round"/>
<path d="M253.5 640.4 L254 640.3 L254.5 640.3 L255 640.2 L255.5 640.1 L256 639.9 L256.5 639.8 L257 639.6 L257.5 639.4 L258 639.1 L258.5 638.8 L259 638.5 L259.5 638.1 L260 637.6 L260.5 637 L261 636.4 L261.5 635.6 L262 634.8 L262.5 633.8 L263 632.8 L263.5 631.6 L264 630.3 L264.5 628.8 L265 627.2 L265.5 625.5 L266 623.6 L266.5 621.6 L267 619.5 L267.5 617.2 L268 614.8 L268.5 612.2 L269 609.6 L269.5 606.9 L270 604.2 L270.5 601.4 L271 598.6 L271.5 595.8 L272 593.1 L272.5 590.4 L273 587.8 L273.5 585.4 L274 583.2 L274.5 581.1 L275 579.3 L275.5 577.7 L276 576.4 L276.5 575.3 L277 574.6 L277.5 574.2 L278 574.1 L278.5 574.3 L279 574.9 L279.5 575.7 L280 576.9 L280.5 578.3 L281 580 L281.5 581.9 L282 584.1 L282.5 586.4 L283 588.9 L283.5 591.5 L284 594.2 L284.5 596.9 L285 599.7 L285.5 602.5 L286 605.3 L286.5 608 L287 610.7 L287.5 613.3 L288 615.7 L288.5 618.1 L289 620.3 L289.5 622.4 L290 624.4 L290.5 626.2 L291 627.9 L291.5 629.4 L292 630.8 L292.5 632.1 L293 633.2 L293.5 634.2 L294 635.1 L294.5 635.9 L295 636.6 L295.5 637.2 L296 637.8 L296.5 638.2 L297 638.6 L297.5 639 L298 639.2 L298.5 639.5 L299 639.7 L299.5 639.9 L300 640 L300.5 640.1 L301 640.2 L301.5 640.3 L302 640.4" stroke="#8080E0" stroke-width="1.3" fill="none" stroke-linejoin="round" stroke-dasharray="1.5 1.1" opacity="0.75"/>
<path d="M243 640.4 L243.5 640.3 L244 640.1 L244.5 640 L245 639.8 L245.5 639.5 L246 639.2 L246.5 638.8 L247 638.2 L247.5 637.6 L248 636.8 L248.5 635.8 L249 634.7 L249.5 633.3 L250 631.7 L250.5 629.9 L251 627.8 L251.5 625.5 L252 622.8 L252.5 619.9 L253 616.8 L253.5 613.4 L254 609.9 L254.5 606.2 L255 602.4 L255.5 598.6 L256 594.8 L256.5 591.2 L257 587.7 L257.5 584.5 L258 581.7 L258.5 579.3 L259 577.4 L259.5 576.1 L260 575.3 L260.5 575.1 L261 575.5 L261.5 576.5 L262 578.1 L262.5 580.2 L263 582.8 L263.5 585.8 L264 589.1 L264.5 592.6 L265 596.3 L265.5 600.1 L266 603.9 L266.5 607.7 L267 611.3 L267.5 614.8 L268 618.1 L268.5 621.1 L269 623.9 L269.5 626.4 L270 628.7 L270.5 630.7 L271 632.4 L271.5 633.9 L272 635.2 L272.5 636.2 L273 637.1 L273.5 637.9 L274 638.5 L274.5 638.9 L275 639.3 L275.5 639.6 L276 639.9 L276.5 640.1 L277 640.2 L277.5 640.3 L278 640.4" stroke="#90188E" stroke-width="4.7" fill="none" stroke-linejoin="round"/>
<path d="M243 640.4 L243.5 640.3 L244 640.1 L244.5 640 L245 639.8 L245.5 639.5 L246 639.2 L246.5 638.8 L247 638.2 L247.5 637.6 L248 636.8 L248.5 635.8 L249 634.7 L249.5 633.3 L250 631.7 L250.5 629.9 L251 627.8 L251.5 625.5 L252 622.8 L252.5 619.9 L253 616.8 L253.5 613.4 L254 609.9 L254.5 606.2 L255 602.4 L255.5 598.6 L256 594.8 L256.5 591.2 L257 587.7 L257.5 584.5 L258 581.7 L258.5 579.3 L259 577.4 L259.5 576.1 L260 575.3 L260.5 575.1 L261 575.5 L261.5 576.5 L262 578.1 L262.5 580.2 L263 582.8 L263.5 585.8 L264 589.1 L264.5 592.6 L265 596.3 L265.5 600.1 L266 603.9 L266.5 607.7 L267 611.3 L267.5 614.8 L268 618.1 L268.5 621.1 L269 623.9 L269.5 626.4 L270 628.7 L270.5 630.7 L271 632.4 L271.5 633.9 L272 635.2 L272.5 636.2 L273 637.1 L273.5 637.9 L274 638.5 L274.5 638.9 L275 639.3 L275.5 639.6 L276 639.9 L276.5 640.1 L277 640.2 L277.5 640.3 L278 640.4" stroke="#DDA0DD" stroke-width="1.3" fill="none" stroke-linejoin="round" stroke-dasharray="1.5 1.1" opacity="0.75"/>
<path d="M314.5 640.5 L315 640.5 L315.5 640.5 L316 640.4 L316.5 640.4 L317 640.3 L317.5 640.1 L318 639.9 L318.5 639.7 L319 639.4 L319.5 639 L320 638.5 L320.5 637.9 L321 637.1 L321.5 636.2 L322 635 L322.5 633.6 L323 631.9 L323.5 629.9 L324 627.6 L324.5 624.9 L325 621.9 L325.5 618.4 L326 614.5 L326.5 610.1 L327 605.4 L327.5 600.2 L328 594.6 L328.5 588.7 L329 582.5 L329.5 576.1 L330 569.4 L330.5 562.7 L331 555.9 L331.5 549.2 L332 542.6 L332.5 536.2 L333 530.1 L333.5 524.4 L334 519.2 L334.5 514.4 L335 510.2 L335.5 506.5 L336 503.4 L336.5 500.9 L337 499 L337.5 497.7 L338 496.8 L338.5 496.4 L339 496.3 L339.5 496.4 L340 496.8 L340.5 497.7 L341 499 L341.5 500.9 L342 503.4 L342.5 506.5 L343 510.2 L343.5 514.4 L344 519.2 L344.5 524.4 L345 530.1 L345.5 536.2 L346 542.6 L346.5 549.2 L347 555.9 L347.5 562.7 L348 569.4 L348.5 576.1 L349 582.5 L349.5 588.7 L350 594.6 L350.5 600.2 L351 605.4 L351.5 610.1 L352 614.5 L352.5 618.4 L353 621.9 L353.5 624.9 L354 627.6 L354.5 629.9 L355 631.9 L355.5 633.6 L356 635 L356.5 636.2 L357 637.1 L357.5 637.9 L358 638.5 L358.5 639 L359 639.4 L359.5 639.7 L360 639.9 L360.5 640.1 L361 640.3 L361.5 640.4 L362 640.4 L362.5 640.5 L363 640.5 L363.5 640.5" stroke="#F01EE0" stroke-width="4.7" fill="none" stroke-linejoin="round"/>
<path d="M314.5 640.5 L315 640.5 L315.5 640.5 L316 640.4 L316.5 640.4 L317 640.3 L317.5 640.1 L318 639.9 L318.5 639.7 L319 639.4 L319.5 639 L320 638.5 L320.5 637.9 L321 637.1 L321.5 636.2 L322 635 L322.5 633.6 L323 631.9 L323.5 629.9 L324 627.6 L324.5 624.9 L325 621.9 L325.5 618.4 L326 614.5 L326.5 610.1 L327 605.4 L327.5 600.2 L328 594.6 L328.5 588.7 L329 582.5 L329.5 576.1 L330 569.4 L330.5 562.7 L331 555.9 L331.5 549.2 L332 542.6 L332.5 536.2 L333 530.1 L333.5 524.4 L334 519.2 L334.5 514.4 L335 510.2 L335.5 506.5 L336 503.4 L336.5 500.9 L337 499 L337.5 497.7 L338 496.8 L338.5 496.4 L339 496.3 L339.5 496.4 L340 496.8 L340.5 497.7 L341 499 L341.5 500.9 L342 503.4 L342.5 506.5 L343 510.2 L343.5 514.4 L344 519.2 L344.5 524.4 L345 530.1 L345.5 536.2 L346 542.6 L346.5 549.2 L347 555.9 L347.5 562.7 L348 569.4 L348.5 576.1 L349 582.5 L349.5 588.7 L350 594.6 L350.5 600.2 L351 605.4 L351.5 610.1 L352 614.5 L352.5 618.4 L353 621.9 L353.5 624.9 L354 627.6 L354.5 629.9 L355 631.9 L355.5 633.6 L356 635 L356.5 636.2 L357 637.1 L357.5 637.9 L358 638.5 L358.5 639 L359 639.4 L359.5 639.7 L360 639.9 L360.5 640.1 L361 640.3 L361.5 640.4 L362 640.4 L362.5 640.5 L363 640.5 L363.5 640.5" stroke="#FFB4F8" stroke-width="1.3" fill="none" stroke-linejoin="round" stroke-dasharray="1.5 1.1" opacity="0.75"/>
<path d="M85 640.4 H376" stroke="#960F9A" stroke-width="5.2" fill="none"/>
</g>
<rect x="85.1" y="469.8" width="290.9" height="176.9" fill="none" stroke="#000" stroke-width="1.7"/>
<path d="M137.4 646.7 v4.8 M211.7 646.7 v4.8 M286 646.7 v4.8 M360.3 646.7 v4.8 M376 640.6 h4.6 M376 609.5 h4.6 M376 578.4 h4.6 M376 547.3 h4.6 M376 516.2 h4.6 M376 485.1 h4.6" stroke="#000" stroke-width="1.6" fill="none"/>
<text class="sa" x="137.4" y="665" font-size="12.5" fill="#000" text-anchor="middle">960</text>
<text class="sa" x="211.7" y="665" font-size="12.5" fill="#000" text-anchor="middle">950</text>
<text class="sa" x="286" y="665" font-size="12.5" fill="#000" text-anchor="middle">940</text>
<text class="sa" x="360.3" y="665" font-size="12.5" fill="#000" text-anchor="middle">930</text>
<text class="sa" x="384.2" y="645" font-size="12.4" fill="#000">0</text>
<text class="sa" x="384.2" y="613.9" font-size="12.4" fill="#000">5000</text>
<text class="sa" x="384.2" y="582.8" font-size="12.4" fill="#000">10000</text>
<text class="sa" x="384.2" y="551.7" font-size="12.4" fill="#000">15000</text>
<text class="sa" x="384.2" y="520.6" font-size="12.4" fill="#000">20000</text>
<text class="sa" x="384.2" y="489.5" font-size="12.4" fill="#000">25000</text>
<text class="sa" x="95.2" y="490" font-size="17" fill="#000" textLength="47.7" lengthAdjust="spacingAndGlyphs">Cu 2p</text>
<text class="sa" x="150" y="679" font-size="17.5" fill="#000" textLength="167.5" lengthAdjust="spacingAndGlyphs">Binding Energy (eV)</text>
<text class="sa" x="59.6" y="673" font-size="17" fill="#000" textLength="22" lengthAdjust="spacingAndGlyphs">(d)</text>
<text class="sa" x="0" y="0" font-size="17.7" fill="#000" textLength="117.2" lengthAdjust="spacingAndGlyphs" transform="translate(71.9 613.6) rotate(-90)">Intensity (a.u.)</text>
<text class="sa" x="102.8" y="577.3" font-size="13.3" fill="#000" textLength="50.2" lengthAdjust="spacingAndGlyphs">Cu<tspan font-size="9" dy="-5">2+</tspan><tspan dy="5"> sat</tspan></text>
<text class="sa" x="219.7" y="568" font-size="13.3" fill="#000" textLength="49.8" lengthAdjust="spacingAndGlyphs">Cu<tspan font-size="9" dy="-5">2+</tspan><tspan dy="5"> sat</tspan></text>
<text class="sa" x="275.8" y="568" font-size="13.3" fill="#000" textLength="50.2" lengthAdjust="spacingAndGlyphs">Cu<tspan font-size="9" dy="-5">2+</tspan><tspan dy="5"> sat</tspan></text>
<text class="sa" x="170" y="536.8" font-size="13.5" fill="#000" textLength="48" lengthAdjust="spacingAndGlyphs">Cu 2p<tspan font-size="9" dy="3">1/2</tspan></text>
<text class="sa" x="320" y="491.5" font-size="13.5" fill="#000" textLength="49.2" lengthAdjust="spacingAndGlyphs">Cu 2p<tspan font-size="9" dy="3">3/2</tspan></text>
</g>
</svg></body></html>
